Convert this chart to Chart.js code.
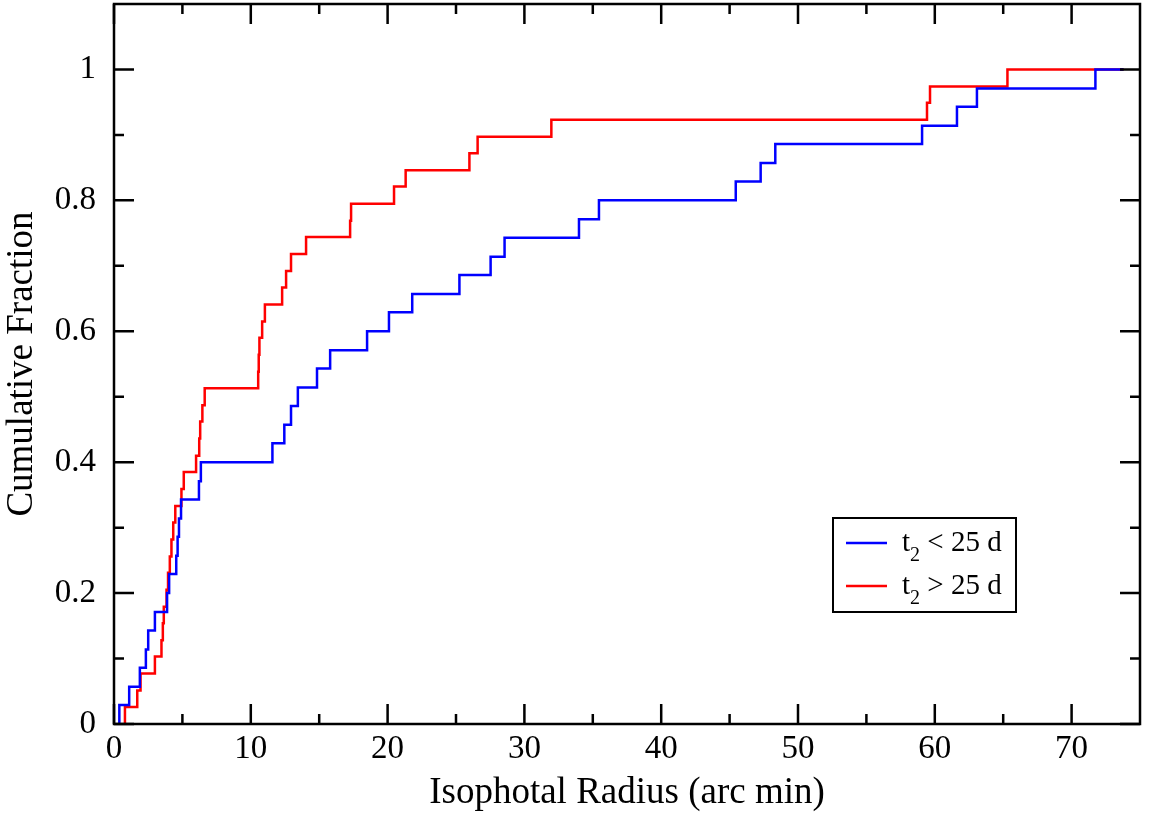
<!DOCTYPE html>
<html>
<head>
<meta charset="utf-8">
<script src="https://cdn.jsdelivr.net/npm/chart.js@4"></script>
<style>
  body { margin: 0; background: #fff; }
  #chart { display: block; }
</style>
</head>
<body>
<canvas id="chart" width="1150" height="815"></canvas>
<script>
// valori (raggio isofotale in arcmin, frazione cumulativa)
const blueX = [0.39, 0.39, 1.11, 1.89, 2.33, 2.5, 2.99, 3.88, 4.03, 4.55, 4.65, 4.75, 4.9, 6.21, 6.35,
  11.58, 12.45, 12.94, 13.44, 14.84, 15.8, 18.5, 20.1, 21.8, 25.25, 27.53, 28.55, 33.99, 35.45,
  45.45, 47.27, 48.34, 59.07, 61.62, 63.08, 71.74, 73.8];
const blueY = [0, 0.029, 0.057, 0.086, 0.114, 0.143, 0.171, 0.200, 0.229, 0.257, 0.286, 0.314, 0.343, 0.371, 0.400,
  0.429, 0.457, 0.486, 0.514, 0.543, 0.571, 0.600, 0.629, 0.657, 0.686, 0.714, 0.743, 0.771, 0.800,
  0.829, 0.857, 0.886, 0.914, 0.943, 0.971, 1.000, 1.000];

const redX = [0.8, 0.8, 1.7, 1.94, 2.99, 3.47, 3.57, 3.64, 3.84, 3.95, 4.08, 4.2, 4.33, 4.48, 4.93, 5.1,
  6.0, 6.23, 6.3, 6.46, 6.63, 10.54, 10.58, 10.63, 10.83, 11.03, 12.29, 12.58, 12.94, 14.04,
  17.26, 17.33, 20.47, 21.32, 25.98, 26.58, 31.97, 59.43, 59.65, 65.31, 73.8];
const redY = [0, 0.026, 0.051, 0.077, 0.103, 0.128, 0.154, 0.179, 0.205, 0.231, 0.256, 0.282, 0.308, 0.333, 0.359, 0.385,
  0.410, 0.436, 0.462, 0.487, 0.513, 0.538, 0.564, 0.590, 0.615, 0.641, 0.667, 0.692, 0.718, 0.744,
  0.769, 0.795, 0.821, 0.846, 0.872, 0.897, 0.923, 0.949, 0.974, 1.000, 1.000];

const seriesLabels = ['t₂ < 25 d', 't₂ > 25 d'];

// tacche degli assi
const xTicks = [0, 10, 20, 30, 40, 50, 60, 70];
const xMinor = [5, 15, 25, 35, 45, 55, 65];
const yTicks = [0, 0.2, 0.4, 0.6, 0.8, 1];
const yMinor = [0.1, 0.3, 0.5, 0.7, 0.9];

const FONT = "'Liberation Serif', 'DejaVu Serif', serif";

const toPoints = (xs, ys) => xs.map((x, i) => ({ x: x, y: ys[i] }));

// cornice del grafico con tacche rivolte verso l'interno, su tutti e quattro i lati
const framePlugin = {
  id: 'frame',
  afterDatasetsDraw(chart) {
    const ctx = chart.ctx;
    const a = chart.chartArea;
    const sx = chart.scales.x;
    const sy = chart.scales.y;
    ctx.save();
    ctx.strokeStyle = '#000';
    ctx.lineWidth = 2.5;
    ctx.lineCap = 'butt';
    ctx.beginPath();
    const tickX = (v, len) => {
      const px = sx.getPixelForValue(v);
      ctx.moveTo(px, a.bottom); ctx.lineTo(px, a.bottom - len);
      ctx.moveTo(px, a.top); ctx.lineTo(px, a.top + len);
    };
    const tickY = (v, len) => {
      const py = sy.getPixelForValue(v);
      ctx.moveTo(a.left, py); ctx.lineTo(a.left + len, py);
      ctx.moveTo(a.right, py); ctx.lineTo(a.right - len, py);
    };
    xTicks.forEach(v => tickX(v, 20));
    xMinor.forEach(v => tickX(v, 10));
    yTicks.forEach(v => tickY(v, 20));
    yMinor.forEach(v => tickY(v, 10));
    ctx.stroke();
    ctx.strokeRect(a.left, a.top, a.right - a.left, a.bottom - a.top);
    ctx.restore();
  }
};

// legenda con bordo e pedice, come nell'originale
const boxLegendPlugin = {
  id: 'boxLegend',
  afterDraw(chart, args, opts) {
    const ctx = chart.ctx;
    ctx.save();
    ctx.fillStyle = '#fff';
    ctx.fillRect(opts.x, opts.y, opts.w, opts.h);
    ctx.strokeStyle = '#000';
    ctx.lineWidth = 2;
    ctx.strokeRect(opts.x, opts.y, opts.w, opts.h);
    chart.data.datasets.forEach((ds, i) => {
      const ly = opts.y + opts.firstRow + i * opts.rowGap;
      ctx.strokeStyle = ds.borderColor;
      ctx.lineWidth = 2.5;
      ctx.beginPath();
      ctx.moveTo(opts.x + 13, ly);
      ctx.lineTo(opts.x + 54, ly);
      ctx.stroke();
      // testo "t", pedice "2", resto dell'etichetta
      const parts = ds.label.split('₂');
      let tx = opts.x + 69;
      const base = ly + 8;
      ctx.fillStyle = '#000';
      ctx.textBaseline = 'alphabetic';
      ctx.font = opts.size + 'px ' + FONT;
      ctx.fillText(parts[0], tx, base);
      tx += ctx.measureText(parts[0]).width;
      ctx.font = Math.round(opts.size * 0.7) + 'px ' + FONT;
      ctx.fillText('2', tx, base + 10);
      tx += ctx.measureText('2').width;
      ctx.font = opts.size + 'px ' + FONT;
      ctx.fillText(parts[1], tx, base);
    });
    ctx.restore();
  }
};

new Chart(document.getElementById('chart'), {
  type: 'line',
  data: {
    datasets: [
      {
        label: seriesLabels[0],
        data: toPoints(blueX, blueY),
        borderColor: '#0000ff',
        borderWidth: 2.5,
        stepped: true,
        pointRadius: 0,
        fill: false
      },
      {
        label: seriesLabels[1],
        data: toPoints(redX, redY),
        borderColor: '#ff0000',
        borderWidth: 2.5,
        stepped: true,
        pointRadius: 0,
        fill: false
      }
    ]
  },
  options: {
    responsive: false,
    animation: false,
    layout: { padding: { top: 4, right: 10, left: 0, bottom: 0 } },
    scales: {
      x: {
        type: 'linear',
        min: 0,
        max: 75,
        afterBuildTicks: s => { s.ticks = xTicks.map(v => ({ value: v })); },
        afterFit: s => { s.height = 91; s.paddingLeft = 0; s.paddingRight = 0; },
        grid: { display: false, drawTicks: false },
        border: { display: false },
        ticks: {
          color: '#000',
          font: { family: FONT, size: 33 },
          padding: 6,
          maxRotation: 0,
          autoSkip: false
        },
        title: {
          display: true,
          text: 'Isophotal Radius (arc min)',
          color: '#000',
          font: { family: FONT, size: 37 },
          padding: { top: 0, bottom: 0 }
        }
      },
      y: {
        type: 'linear',
        min: 0,
        max: 1.1,
        afterBuildTicks: s => { s.ticks = yTicks.map(v => ({ value: v })); },
        afterFit: s => { s.width = 114; s.paddingTop = 0; s.paddingBottom = 0; },
        grid: { display: false, drawTicks: false },
        border: { display: false },
        ticks: {
          color: '#000',
          font: { family: FONT, size: 33 },
          padding: 18,
          callback: v => String(Math.round(v * 10) / 10)
        },
        title: {
          display: true,
          text: 'Cumulative Fraction',
          color: '#000',
          font: { family: FONT, size: 37 },
          padding: { top: 0, bottom: 0 }
        }
      }
    },
    plugins: {
      legend: { display: false },
      tooltip: { enabled: false },
      boxLegend: { x: 833, y: 518, w: 183, h: 94, firstRow: 25, rowGap: 43, size: 29 }
    }
  },
  plugins: [framePlugin, boxLegendPlugin]
});
</script>
</body>
</html>
